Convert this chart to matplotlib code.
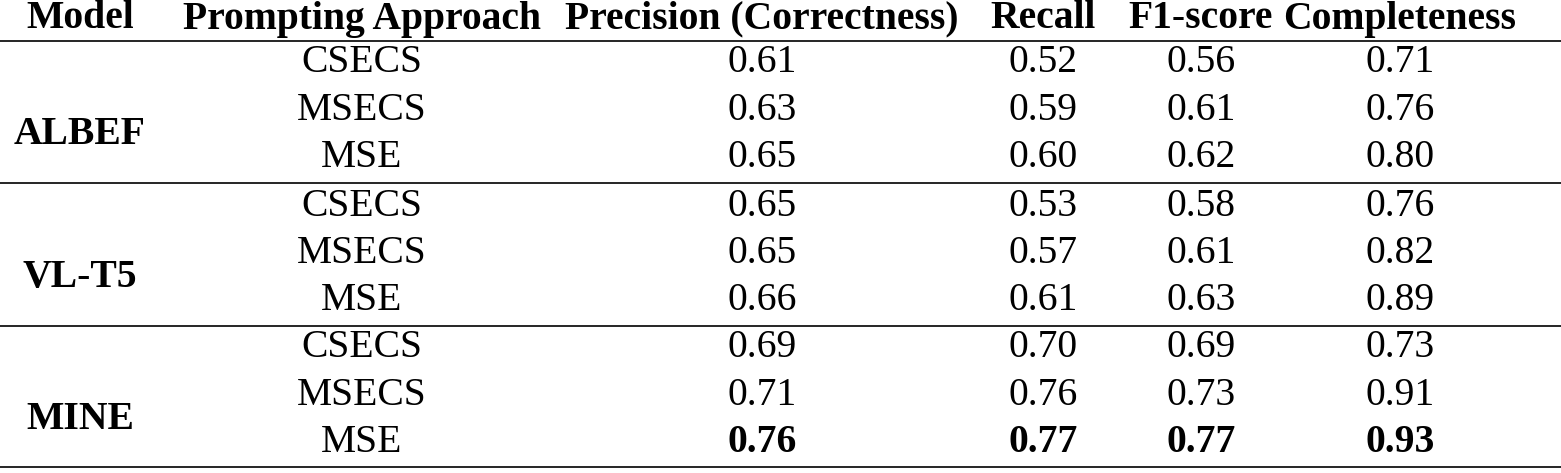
import matplotlib
matplotlib.use("Agg")
import matplotlib.pyplot as plt

headers = ["Model", "Prompting Approach", "Precision (Correctness)", "Recall", "F1-score", "Completeness"]
models = ["ALBEF", "VL-T5", "MINE"]
approaches = ["CSECS", "MSECS", "MSE"]
precision = [0.61, 0.63, 0.65, 0.65, 0.65, 0.66, 0.69, 0.71, 0.76]
recall = [0.52, 0.59, 0.60, 0.53, 0.57, 0.61, 0.70, 0.76, 0.77]
f1 = [0.56, 0.61, 0.62, 0.58, 0.61, 0.63, 0.69, 0.73, 0.77]
completeness = [0.71, 0.76, 0.80, 0.76, 0.82, 0.89, 0.73, 0.91, 0.93]

W, H = 1561, 473
fig = plt.figure(figsize=(W/100, H/100), dpi=100)
ax = fig.add_axes([0, 0, 1, 1])
ax.set_xlim(0, W); ax.set_ylim(H, 0); ax.axis("off")
fam = ["Liberation Serif", "DejaVu Serif"]
fs = 28.5
xs = [80, 362, 762, 1043, 1201, 1400]
for x, h in zip(xs, headers):
    ax.text(x, 19, h, ha="center", va="center", fontsize=fs, fontweight="bold", family=fam)
for y in [41, 183, 326]:
    ax.plot([0, W], [y, y], color="black", lw=1.2)
ax.plot([0, W], [467, 467], color="black", lw=1.2)
row_y = [62, 110, 157, 206, 253, 300, 347, 395, 442]
cols = [precision, recall, f1, completeness]
for i, y in enumerate(row_y):
    ax.text(xs[1], y, approaches[i % 3], ha="center", va="center", fontsize=fs, family=fam)
    bold = (i == 8)
    for j, c in enumerate(cols):
        ax.text(xs[2+j], y, f"{c[i]:.2f}", ha="center", va="center", fontsize=fs,
                family=fam, fontweight="bold" if bold else "normal")
for k, m in enumerate(models):
    ax.text(xs[0], row_y[3*k+1] + 24, m, ha="center", va="center", fontsize=fs, fontweight="bold", family=fam)
fig.savefig("out.png", dpi=100)
